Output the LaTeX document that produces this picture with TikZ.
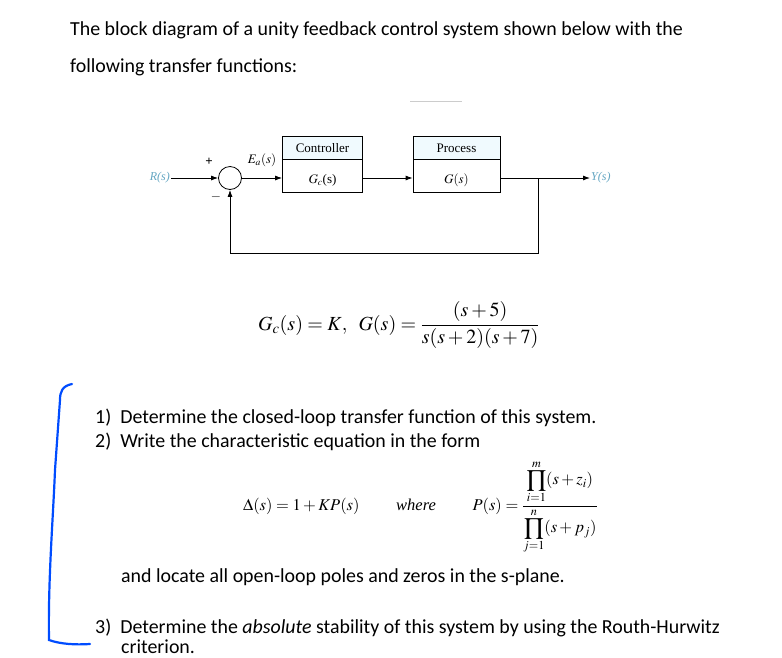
\documentclass[tikz,border=0pt]{standalone}
\usepackage{amsmath}
\usepackage{mathptmx}
\usepackage{fontspec}
\setmainfont{Carlito}
\newfontfamily\tms{Liberation Serif}
\usetikzlibrary{arrows.meta}
\begin{document}
\begin{tikzpicture}[x=1pt,y=-1pt,
  txt/.style={anchor=base west,inner sep=0pt,font=\fontsize{19.9}{22}\selectfont},
  blk/.style={draw,thick,minimum width=80pt,minimum height=56pt,inner sep=0pt},
  sig/.style={thick,-{Latex[length=7pt,width=5pt]}},
  sm/.style={font=\tms\fontsize{12}{13}\selectfont\itshape,inner sep=1pt},
  mth/.style={font=\tms\fontsize{20}{22}\selectfont,inner sep=0pt}]
\useasboundingbox (0,0) rectangle (782,657);
\node[txt] (t1) at (70,35) {The block diagram of a unity feedback control system shown below with the};
\node[txt] (t2) at (70,72) {following transfer functions:};
\draw[gray!40,thick] (410,101) -- (462,101);
% blocks
\node[blk] (gc) at (322.5,164.5) {};
\node[draw,thick,fill=cyan!6,minimum width=80pt,minimum height=23pt,anchor=north,inner sep=0pt,font=\tms\fontsize{13}{14}\selectfont] (ch) at (gc.north) {Controller};
\node[font=\tms\fontsize{13}{14}\selectfont] (gct) at (322.5,180) {$G_c$(s)};
\node[blk,minimum width=87pt] (gp) at (456.5,164.5) {};
\node[draw,thick,fill=cyan!6,minimum width=87pt,minimum height=23pt,anchor=north,inner sep=0pt,font=\tms\fontsize{13}{14}\selectfont] (ph) at (gp.north) {Process};
\node[font=\tms\fontsize{13}{14}\selectfont] (gpt) at (456.5,180) {$G(s)$};
\node[draw,thick,circle,minimum size=23pt,inner sep=0pt] (sum) at (230,178) {};
\node[sm,text=cyan!50!gray,anchor=east] (r) at (171,178) {R(s)};
\node[sm,text=cyan!50!gray,anchor=west] (y) at (590,178) {Y(s)};
\coordinate (tap) at (538,178);
\coordinate (fb) at (538,253);
\coordinate (fb2) at (230,253);
\draw[sig] (r) -- (sum);
\draw[sig] (sum) -- (gc.west|-sum);
\draw[sig] (gc.east|-sum) -- (gp.west|-sum);
\draw[sig] (gp.east|-sum) -- (y);
\draw[sig] (tap) -- (fb) -- (fb2) -- (sum.south);
\node[sm,font=\fontsize{13}{14}\selectfont] (ea) at (262,160) {$E_a(s)$};
\node[font=\tms\bfseries\fontsize{13}{14}\selectfont] (pl) at (209,162) {+};
\node[font=\fontsize{13}{14}\selectfont] (mi) at (216,197) {$-$};
% equation
\node[mth,anchor=base west] (eq) at (258,330) {$G_c(s)=K,\;\; G(s)=\dfrac{(s+5)}{s(s+2)(s+7)}$};
% questions
\node[txt] (q1) at (95,423) {1)\ \ Determine the closed-loop transfer function of this system.};
\node[txt] (q2) at (95,447) {2)\ \ Write the characteristic equation in the form};
\node[mth,anchor=base west,font=\tms\fontsize{16.5}{18}\selectfont] (f) at (243,510) {$\Delta(s)=1+KP(s)\qquad\; \textit{where}\qquad\; P(s)=\dfrac{\displaystyle\prod_{i=1}^{m}(s+z_i)}{\displaystyle\prod_{j=1}^{n}(s+p_j)}$};
\node[txt] (q2b) at (121,582) {and locate all open-loop poles and zeros in the s-plane.};
\node[txt] (q3) at (95,633) {3)\ \ Determine the \textit{absolute} stability of this system by using the Routh-Hurwitz};
\node[txt] (q3b) at (121,653) {criterion.};
\draw[blue!70!cyan,line width=2.2pt,line cap=round] (72,384) .. controls (62,386) and (60,392) .. (60,400) -- (55,470) .. controls (53,520) and (48,580) .. (49,640) .. controls (60,644) and (75,645) .. (90,644);
\end{tikzpicture}
\end{document}
